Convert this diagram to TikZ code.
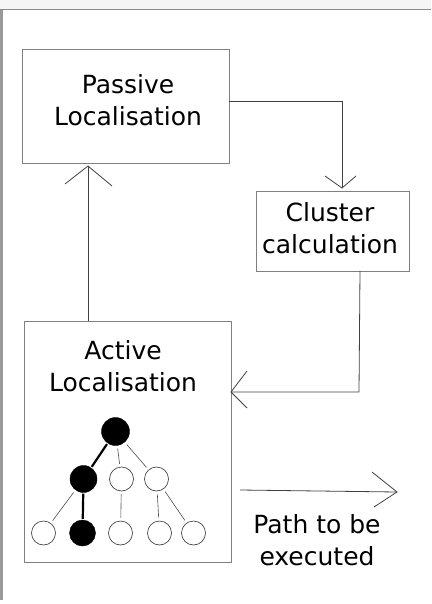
\documentclass[tikz,border=0pt]{standalone}
\usepackage{fontspec}
\setmainfont{DejaVu Sans}
\begin{document}
\begin{tikzpicture}[x=1pt,y=-1pt,
  box/.style={draw=black!50,line width=0.8pt,fill=white,inner sep=0pt,outer sep=0pt},
  lbl/.style={font=\fontsize{25}{32}\selectfont,align=center,text=black},
  conn/.style={draw=black!75,line width=0.8pt},
  wing/.style={draw=black!75,line width=0.8pt},
  wnode/.style={circle,draw=black!80,line width=0.6pt,fill=white,minimum size=24pt,inner sep=0pt},
  bnode/.style={circle,draw=black,fill=black,minimum size=27pt,inner sep=0pt},
  tedge/.style={draw=black!70,line width=0.6pt,shorten <=3pt,shorten >=3pt},
  bedge/.style={draw=black,line width=2.2pt,shorten <=1pt,shorten >=1pt}]
\useasboundingbox (0,0) rectangle (431,604);
\fill[black!4] (0,0) rectangle (431,9);
\draw[black!45,line width=1.2pt] (0,9.6) -- (431,9.6);
\fill[black!40] (0,10) rectangle (3,600);
% boxes
\node[box,minimum width=207pt,minimum height=114pt] (pl) at (125.5,106) {};
\node[lbl] (plt) at (128,100) {Passive\\Localisation};
\node[box,minimum width=153pt,minimum height=80pt] (cc) at (332.5,231) {};
\node[lbl] (cct) at (330,228) {Cluster\\calculation};
\node[box,minimum width=207pt,minimum height=241pt] (al) at (127.5,441.5) {};
\node[lbl] (alt) at (123,366) {Active\\Localisation};
% connectors
\coordinate (c1) at (342,101);
\coordinate (c1e) at (342,188);
\draw[conn] (pl.east |- c1) -- (c1) -- (c1e);
\draw[wing] (325,176) -- (c1e) -- (356,176);
\coordinate (u1) at (88,321);
\coordinate (u1e) at (88,166);
\draw[conn] (u1) -- (u1e);
\draw[wing] (65,184) -- (u1e) -- (112,186);
\coordinate (d1) at (360,271);
\coordinate (d2) at (359,392);
\coordinate (d3) at (231,392);
\draw[conn] (d1) -- (d2) -- (d3);
\draw[wing] (247,371) -- (d3) -- (247,408);
\coordinate (p1) at (240,490);
\coordinate (p2) at (397,492);
\draw[conn] (p1) -- (p2);
\draw[wing] (372,472) -- (p2) -- (374,507);
\node[lbl] (pt) at (317,540) {Path to be\\executed};
% tree
\node[bnode,minimum size=28pt] (r) at (115.5,431.5) {};
\node[bnode] (a) at (83.5,479) {};
\node[wnode] (b) at (121.5,479) {};
\node[wnode] (c) at (156.5,479) {};
\node[wnode] (d) at (43.5,533) {};
\node[bnode,minimum size=26pt] (e) at (82.5,533) {};
\node[wnode] (f) at (120.5,533) {};
\node[wnode] (g) at (159.5,533) {};
\node[wnode] (h) at (193.5,533) {};
\draw[bedge] (r) -- (a);
\draw[bedge] (a) -- (e);
\draw[tedge] (r) -- (b);
\draw[tedge] (r) -- (c);
\draw[tedge] (a) -- (d);
\draw[tedge] (b) -- (f);
\draw[tedge] (c) -- (g);
\draw[tedge] (c) -- (h);
\end{tikzpicture}
\end{document}
